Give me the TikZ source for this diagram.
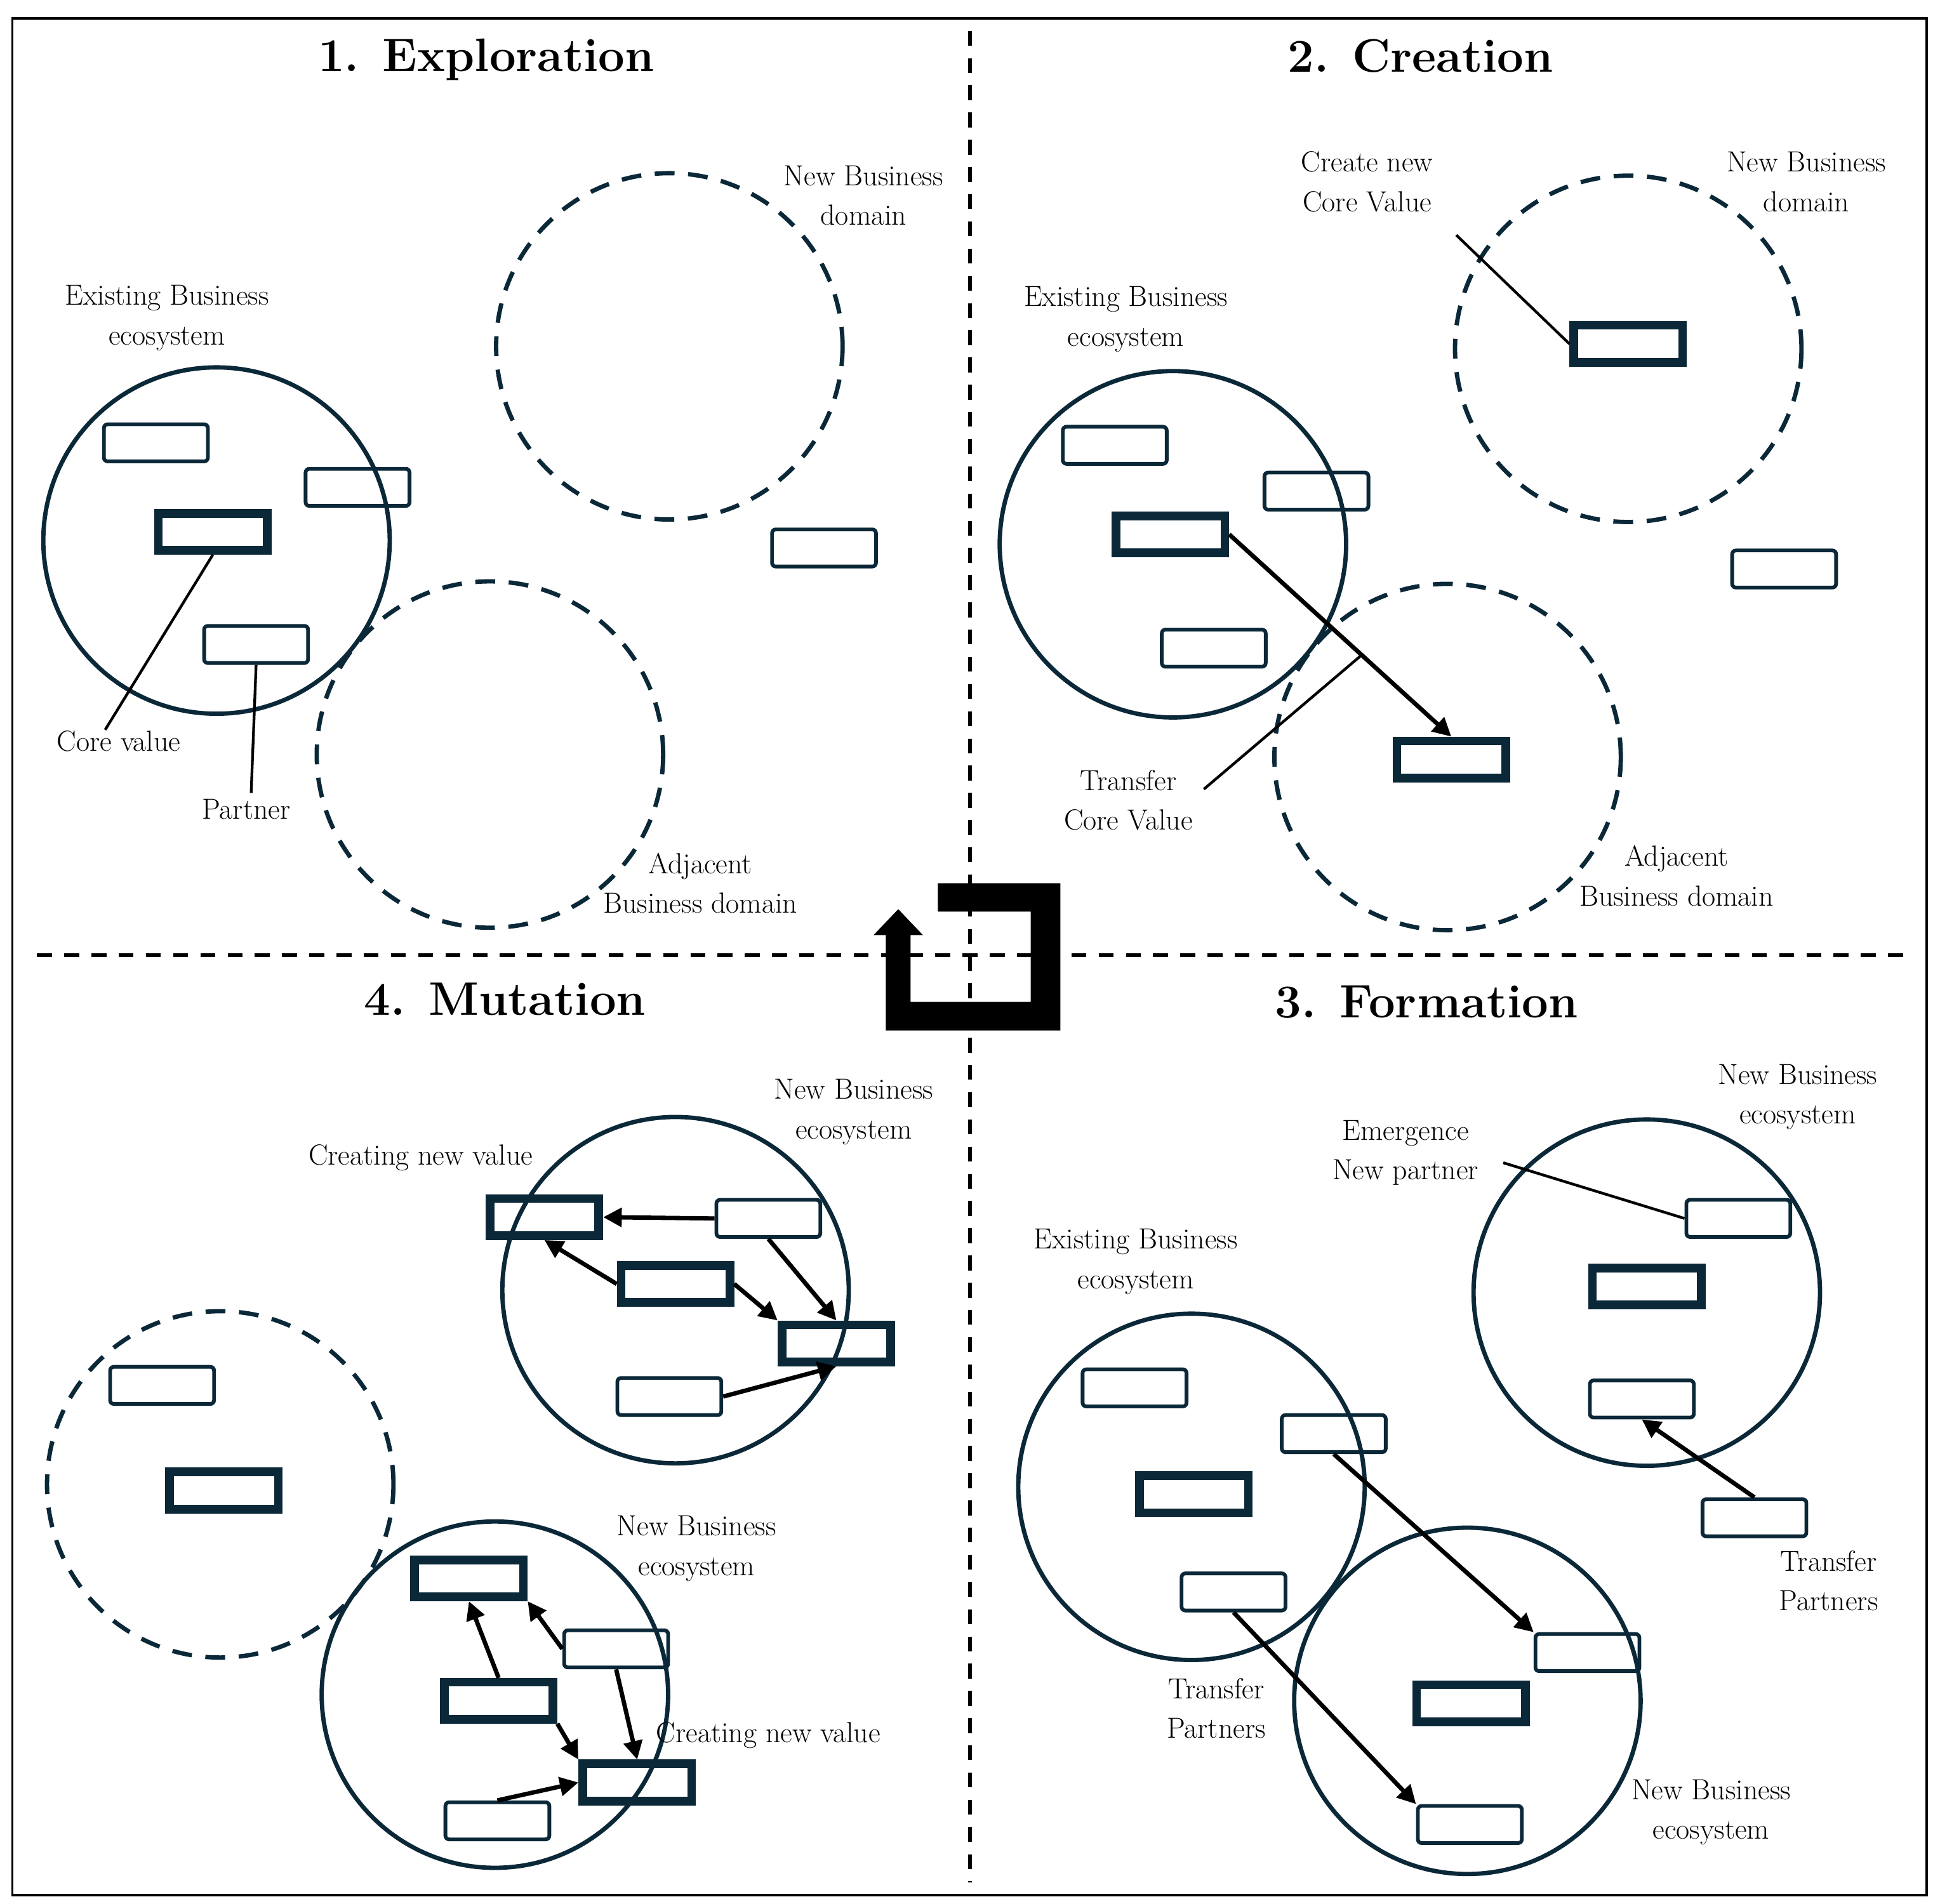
\documentclass[tikz,border=0pt]{standalone}
\usetikzlibrary{arrows.meta}
\definecolor{navy}{HTML}{0B2838}
\begin{document}
\begin{tikzpicture}[x=1pt,y=-1pt,
  sc/.style={draw=navy,line width=3.5pt},
  dc/.style={draw=navy,line width=3.5pt,dash pattern=on 16pt off 11pt},
  tr/.style={draw=navy,line width=3pt,rounded corners=3pt,minimum width=84pt,minimum height=30pt,inner sep=0pt},
  kr/.style={draw=navy,line width=7pt,minimum width=88pt,minimum height=30pt,inner sep=0pt},
  lb/.style={font=\fontsize{23.5}{32}\selectfont,align=center,inner sep=0pt},
  tt/.style={font=\fontsize{38}{44}\selectfont\bfseries,inner sep=0pt},
  ar/.style={line width=3.5pt,-{Triangle[length=15pt,width=15pt]}},
  ln/.style={line width=2.2pt}]
\useasboundingbox (0,0) rectangle (1568,1539);
\fill[white] (0,0) rectangle (1568,1539);
\draw[line width=2pt] (10,15) rectangle (1557,1532);
\draw[line width=3pt,dash pattern=on 12pt off 10pt] (784,25) -- (784,1522);
\draw[line width=3pt,dash pattern=on 12pt off 10pt] (30,772) -- (1545,772);
% titles
\node[tt] (t1) at (393,48) {1. Exploration};
\node[tt] (t2) at (1148,45) {2. Creation};
\node[tt] (t4) at (408,808) {4. Mutation};
\node[tt] (t3) at (1153,810) {3. Formation};
% Q1
\draw[sc] (175,437) circle (140);
\draw[dc] (541,280) circle (140);
\draw[dc] (396,610) circle (140);
\node[tr] (a1) at (126,358) {};
\node[tr] (a2) at (289,394) {};
\node[tr] (a3) at (207,521) {};
\node[kr] (a4) at (172,430) {};
\node[tr] (a5) at (666,443) {};
\node[lb] (l1) at (135,257) {Existing Business\\ecosystem};
\node[lb] (l2) at (698,158) {New Business\\domain};
\node[lb] (l3) at (96,599) {Core value};
\node[lb] (l4) at (199,654) {Partner};
\node[lb] (l5) at (566,714) {Adjacent\\Business domain};
\coordinate (c1) at (85,590); \coordinate (c2) at (203,641);
\draw[ln] (a4.south) -- (c1);
\draw[ln] (a3.south) -- (c2);
% Q2
\draw[sc] (948,440) circle (140);
\draw[dc] (1316,282) circle (140);
\draw[dc] (1170,612) circle (140);
\node[tr] (b1) at (901,360) {};
\node[tr] (b2) at (1064,397) {};
\node[tr] (b3) at (981,524) {};
\node[kr] (b4) at (946,432) {};
\node[kr] (b5) at (1316,278) {};
\node[kr] (b6) at (1173,614) {};
\node[tr] (b7) at (1442,460) {};
\draw[ar] (b4.east) -- (b6.north);
\coordinate (d1) at (973,638); \coordinate (d2) at (1100,530);
\coordinate (d3) at (1177,190);
\draw[ln] (d1) -- (d2);
\draw[ln] (d3) -- (b5.west);
\node[lb] (m1) at (1105,147) {Create new\\Core Value};
\node[lb] (m2) at (1460,147) {New Business\\domain};
\node[lb] (m3) at (910,258) {Existing Business\\ecosystem};
\node[lb] (m4) at (912,647) {Transfer\\Core Value};
\node[lb] (m5) at (1355,708) {Adjacent\\Business domain};
% Q4
\draw[sc] (546,1043) circle (140);
\draw[dc] (178,1200) circle (140);
\draw[sc] (400,1370) circle (140);
\node[kr] (e1) at (440,984) {};
\node[kr] (e2) at (546,1038) {};
\node[kr] (e3) at (676,1086) {};
\node[tr] (e4) at (621,985) {};
\node[tr] (e5) at (541,1129) {};
\draw[ar] (e4.west) -- (e1.east);
\draw[ar] (e2.west) -- (e1.south);
\draw[ar] (e2.east) -- (e3.north west);
\draw[ar] (e4.south) -- (e3.north);
\draw[ar] (e5.east) -- (e3.south);
\node[tr] (f1) at (131,1120) {};
\node[kr] (f2) at (181,1205) {};
\node[kr] (g1) at (379,1276) {};
\node[kr] (g2) at (403,1375) {};
\node[kr] (g3) at (515,1441) {};
\node[tr] (g4) at (498,1333) {};
\node[tr] (g5) at (402,1472) {};
\draw[ar] (g2.north) -- (g1.south);
\draw[ar] (g4.west) -- (g1.south east);
\draw[ar] (g4.south) -- (g3.north);
\draw[ar] (g2.south east) -- (g3.north west);
\draw[ar] (g5.north) -- (g3.west);
\node[lb] (n1) at (690,899) {New Business\\ecosystem};
\node[lb] (n2) at (340,936) {Creating new value};
\node[lb] (n3) at (563,1252) {New Business\\ecosystem};
\node[lb] (n4) at (621,1403) {Creating new value};
% Q3
\draw[sc] (1331,1045) circle (140);
\draw[sc] (963,1202) circle (140);
\draw[sc] (1186,1375) circle (140);
\node[tr] (h1) at (1405,985) {};
\node[kr] (h2) at (1331,1040) {};
\node[tr] (h3) at (1327,1131) {};
\node[tr] (h4) at (1418,1227) {};
\draw[ar] (h4.north) -- (h3.south);
\coordinate (p1) at (1215,940);
\draw[ln] (p1) -- (h1.west);
\node[tr] (i1) at (917,1122) {};
\node[tr] (i2) at (1078,1159) {};
\node[tr] (i3) at (997,1287) {};
\node[kr] (i4) at (965,1208) {};
\node[tr] (j1) at (1283,1336) {};
\node[tr] (j2) at (1188,1475) {};
\node[kr] (j3) at (1189,1377) {};
\draw[ar] (i2.south) -- (j1.north west);
\draw[ar] (i3.south) -- (j2.north west);
\node[lb] (o1) at (1453,887) {New Business\\ecosystem};
\node[lb] (o2) at (1136,932) {Emergence\\New partner};
\node[lb] (o3) at (918,1020) {Existing Business\\ecosystem};
\node[lb] (o4) at (1478,1278) {Transfer\\Partners};
\node[lb] (o5) at (983,1381) {Transfer\\Partners};
\node[lb] (o6) at (1383,1465) {New Business\\ecosystem};
% cycle icon
\fill[black] (758,714) -- (857,714) -- (857,833) -- (716,833) -- (716,756) -- (706,756) -- (726,735) -- (746,756) -- (736,756) -- (736,810) -- (833,810) -- (833,737) -- (758,737) -- cycle;
\end{tikzpicture}
\end{document}
